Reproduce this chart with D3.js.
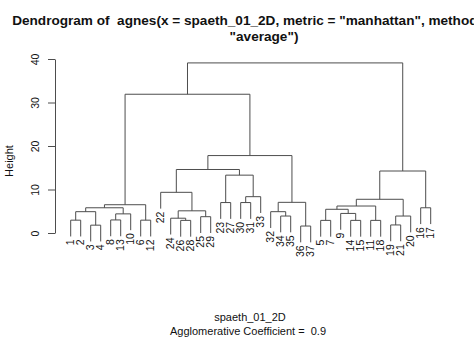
<!DOCTYPE html>
<html><head><meta charset="utf-8">
<script src="https://cdn.jsdelivr.net/npm/d3@7"></script>
<style>
body{margin:0;background:#fff}
svg{display:block}
text{font-family:"Liberation Sans",Arial,Helvetica,sans-serif;fill:#111;white-space:pre}
</style>
</head><body>
<script>
// Leaf order as drawn (left to right)
const leafOrder = [1,2,3,4,8,13,10,6,12,22,24,26,28,25,29,23,27,30,31,33,32,34,35,36,37,5,7,9,14,15,11,18,19,21,20,16,17];
// Merge steps: [left, right, height]; negative = leaf label, positive = earlier merge step (1-based)
const merges = [
  [-1,-2,2.95],[-3,-4,1.8],[1,2,4.9],[-8,-13,3.0],[4,-10,4.4],[3,5,5.8],[-6,-12,2.95],[6,7,6.5],
  [-26,-28,2.9],[-24,9,3.4],[-25,-29,3.75],[10,11,5.1],[-22,12,9.35],[-23,-27,7.0],[-30,-31,7.0],
  [15,-33,8.35],[14,16,13.3],[13,17,14.6],[-34,-35,3.9],[-32,19,4.9],[-36,-37,1.6],[20,21,7.05],
  [18,22,17.8],[8,23,31.9],
  [-5,-7,2.9],[-14,-15,2.9],[-9,26,4.5],[25,27,5.45],[-11,-18,2.9],[28,29,6.2],[-19,-21,1.85],
  [31,-20,3.9],[30,32,7.75],[-16,-17,5.8],[33,34,14.25],[24,35,39.1]
];
const yTicks = [0,10,20,30,40];
const titleLines = ['Dendrogram of  agnes(x = spaeth_01_2D, metric = "manhattan", method =', '"average")'];
const xLabel = 'spaeth_01_2D';
const subLabel = 'Agglomerative Coefficient =  0.9';
const yLabel = 'Height';

const W = 474, H = 338;
const svg = d3.select('body').append('svg').attr('width', W).attr('height', H);

function build(ref){
  if (ref < 0) return {label: -ref};
  const m = merges[ref-1];
  return {height: m[2], children: [build(m[0]), build(m[1])]};
}
const root = d3.hierarchy(build(merges.length));
const heights = merges.map(m => m[2]);
const hang = 0.1 * (d3.max(heights) - d3.min(heights));

const x = d3.scaleLinear().domain([1, leafOrder.length]).range([70.7, 430.7]);
const y = d3.scaleLinear().domain([0, 40]).range([233, 59]);

root.eachAfter(d => {
  if (!d.children) { d.px = leafOrder.indexOf(d.data.label) + 1; }
  else { d.px = d3.mean(d.children, c => c.px); }
});

const stroke = '#4d4d4d';
const g = svg.append('g').attr('fill','none').attr('stroke', stroke).attr('stroke-width', 1);
root.descendants().filter(d => d.children).forEach(d => {
  const h = d.data.height;
  const xs = d.children.map(c => c.px);
  g.append('line').attr('x1', x(d3.min(xs))).attr('x2', x(d3.max(xs)))
    .attr('y1', y(h)).attr('y2', y(h));
  d.children.forEach(c => {
    const bottom = c.children ? c.data.height : h - hang;
    c.bottom = bottom;
    g.append('line').attr('x1', x(c.px)).attr('x2', x(c.px))
      .attr('y1', y(bottom)).attr('y2', y(h));
  });
});

// leaf labels
root.leaves().forEach(l => {
  svg.append('text')
    .attr('transform', `translate(${x(l.px)},${y(l.bottom) + 3}) rotate(-90)`)
    .attr('text-anchor', 'end').attr('dy', '0.35em')
    .attr('font-size', '10.5px')
    .text(l.data.label);
});

// y axis
const ax = svg.append('g').attr('transform', 'translate(55,0)')
  .call(d3.axisLeft(y).tickValues(yTicks).tickSize(7).tickSizeOuter(0));
ax.select('.domain').attr('stroke', stroke);
ax.selectAll('.tick line').attr('stroke', stroke);
ax.selectAll('.tick text')
  .attr('x', null).attr('dy', '0.35em')
  .attr('transform', 'translate(-20,0) rotate(-90)')
  .attr('text-anchor', 'middle')
  .attr('font-size', '10.5px')
  .attr('font-family', '"Liberation Sans",Arial,sans-serif')
  .attr('fill', '#111');

svg.append('text')
  .attr('transform', `translate(13,161) rotate(-90)`)
  .attr('text-anchor', 'middle').attr('font-size', '11px').text(yLabel);

// titles
svg.append('text').attr('x', 250.7).attr('y', 25).attr('text-anchor','middle')
  .attr('font-weight','bold').attr('font-size','13.6px').text(titleLines[0]);
svg.append('text').attr('x', 264).attr('y', 41).attr('text-anchor','middle')
  .attr('font-weight','bold').attr('font-size','13.6px').text(titleLines[1]);

svg.append('text').attr('x', 250).attr('y', 321).attr('text-anchor','middle')
  .attr('font-size','11px').text(xLabel);
svg.append('text').attr('x', 248).attr('y', 334.5).attr('text-anchor','middle')
  .attr('font-size','11px').text(subLabel);
</script>
</body></html>
